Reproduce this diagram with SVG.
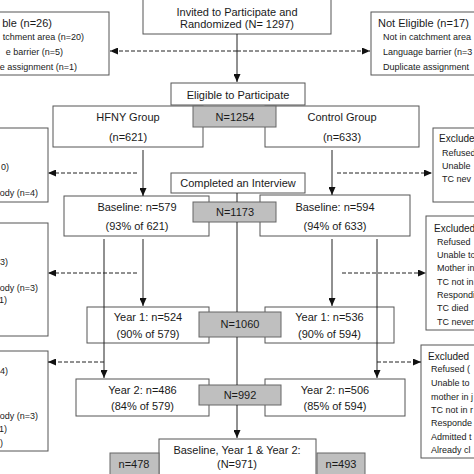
<svg xmlns="http://www.w3.org/2000/svg" width="474" height="474" viewBox="0 0 474 474">
<style>
.box{fill:#fff;stroke:#555;stroke-width:1}
.grey{fill:#bfbfbf;stroke:#666;stroke-width:1}
text{font-family:"Liberation Sans",Arial,sans-serif;fill:#1a1a1a}
.m{font-size:11px;text-anchor:middle}
.h{font-size:11px}
.he{font-size:10px}
.s{font-size:9px}
.se{font-size:9px;text-anchor:end}
.he-end{font-size:11px;text-anchor:end}
.ln{fill:none;stroke:#222;stroke-width:1}
.dl{fill:none;stroke:#222;stroke-width:1;stroke-dasharray:4 2}
</style>
<defs>
<marker id="ah" markerUnits="userSpaceOnUse" viewBox="0 0 8 7" refX="8" refY="3.5" markerWidth="8" markerHeight="7" orient="auto">
<path d="M0,0 L8,3.5 L0,7 z" fill="#111"/>
</marker>
</defs>
<rect width="474" height="474" fill="#fff"/>

<g id="invited"><rect class="box" x="143" y="-5" width="188" height="39"/>
<text class="m" x="237" y="16">Invited to Participate and</text>
<text class="m" x="237" y="28">Randomized (N= 1297)</text></g>

<g id="notelig-left"><rect class="box" x="-60" y="12" width="169" height="63"/>
<text class="he-end" x="52" y="27">ble (n=26)</text>
<text class="se" x="84" y="40">tchment area (n=20)</text>
<text class="se" x="63" y="55">e barrier (n=5)</text>
<text class="se" x="77" y="70">e assignment (n=1)</text></g>

<g id="notelig-right"><rect class="box" x="371" y="12" width="120" height="63"/>
<text class="h" x="378" y="27">Not Eligible (n=17)</text>
<text class="s" x="383" y="40">Not in catchment area</text>
<text class="s" x="383" y="55">Language barrier (n=3</text>
<text class="s" x="383" y="70">Duplicate assignment</text></g>

<g id="eligible"><rect class="box" x="171" y="83" width="134" height="22"/>
<text class="m" x="238" y="99">Eligible to Participate</text></g>

<g id="hfny"><rect class="box" x="53" y="106" width="150" height="41"/>
<text class="m" x="128" y="121">HFNY Group</text>
<text class="m" x="128" y="141">(n=621)</text></g>

<g id="control"><rect class="box" x="265" y="106" width="154" height="41"/>
<text class="m" x="342" y="121">Control Group</text>
<text class="m" x="342" y="141">(n=633)</text></g>

<g id="n1254"><rect class="grey" x="193" y="106" width="83" height="21"/>
<text class="m" x="235" y="121">N=1254</text></g>

<g id="excl-left-1"><rect class="box" x="-60" y="128" width="108" height="74"/>
<text class="se" x="9" y="170">0)</text>
<text class="se" x="38" y="196">ody (n=4)</text></g>

<g id="excl-right-1"><rect class="box" x="433" y="128" width="60" height="74"/>
<text class="he" x="439" y="142">Exclude</text>
<text class="s" x="442" y="156">Refused</text>
<text class="s" x="442" y="169">Unable</text>
<text class="s" x="442" y="182">TC nev</text></g>

<g id="completed"><rect class="box" x="171" y="173" width="134" height="20"/>
<text class="m" x="238" y="187">Completed an Interview</text></g>

<g id="base-hfny"><rect class="box" x="64" y="196" width="145" height="40"/>
<text class="m" x="137" y="211">Baseline: n=579</text>
<text class="m" x="137" y="230">(93% of 621)</text></g>

<g id="base-control"><rect class="box" x="260" y="195" width="150" height="41"/>
<text class="m" x="335" y="211">Baseline: n=594</text>
<text class="m" x="335" y="230">(94% of 633)</text></g>

<g id="n1173"><rect class="grey" x="193" y="202" width="83" height="20"/>
<text class="m" x="235" y="216">N=1173</text></g>

<g id="excl-left-2"><rect class="box" x="-60" y="223" width="108" height="113"/>
<text class="se" x="8" y="265">3)</text>
<text class="se" x="38" y="291">ody (n=3)</text>
<text class="se" x="7" y="303">1)</text></g>

<g id="excl-right-2"><rect class="box" x="426" y="216" width="70" height="114"/>
<text class="he" x="434" y="232">Excluded</text>
<text class="s" x="437" y="245">Refused</text>
<text class="s" x="437" y="258">Unable to</text>
<text class="s" x="437" y="271">Mother in</text>
<text class="s" x="437" y="285">TC not in</text>
<text class="s" x="437" y="298">Respondi</text>
<text class="s" x="437" y="311">TC died</text>
<text class="s" x="437" y="325">TC never</text></g>

<g id="y1-hfny"><rect class="box" x="87" y="307" width="122" height="36"/>
<text class="m" x="148" y="321">Year 1: n=524</text>
<text class="m" x="148" y="338">(90% of 579)</text></g>

<g id="y1-control"><rect class="box" x="265" y="307" width="129" height="36"/>
<text class="m" x="329.5" y="321">Year 1: n=536</text>
<text class="m" x="329.5" y="338">(90% of 594)</text></g>

<g id="n1060"><rect class="grey" x="199" y="312" width="82" height="25"/>
<text class="m" x="240" y="328">N=1060</text></g>

<g id="excl-left-3"><rect class="box" x="-60" y="351" width="108" height="100"/>
<text class="se" x="8" y="374">4)</text>
<text class="se" x="38" y="419">ody (n=3)</text>
<text class="se" x="7" y="432">1)</text>
<text class="se" x="3" y="446">)</text></g>

<g id="excl-right-3"><rect class="box" x="421" y="345" width="70" height="113"/>
<text class="he" x="428" y="360">Excluded</text>
<text class="s" x="431" y="372">Refused (</text>
<text class="s" x="431" y="386">Unable to</text>
<text class="s" x="431" y="400">mother in j</text>
<text class="s" x="431" y="413">TC not in r</text>
<text class="s" x="431" y="426">Responde</text>
<text class="s" x="431" y="440">Admitted t</text>
<text class="s" x="431" y="453">Already cl</text></g>

<g id="y2-hfny"><rect class="box" x="76" y="379" width="133" height="37"/>
<text class="m" x="142.5" y="394">Year 2: n=486</text>
<text class="m" x="142.5" y="410">(84% of 579)</text></g>

<g id="y2-control"><rect class="box" x="265" y="379" width="140" height="37"/>
<text class="m" x="335" y="394">Year 2: n=506</text>
<text class="m" x="335" y="410">(85% of 594)</text></g>

<g id="n992"><rect class="grey" x="199" y="385" width="82" height="20"/>
<text class="m" x="240" y="399">N=992</text></g>

<g id="all-waves"><rect class="box" x="159" y="439" width="157" height="50"/>
<text class="m" x="237" y="454">Baseline, Year 1 &amp; Year 2:</text>
<text class="m" x="237" y="468">(N=971)</text></g>

<g id="n478"><rect class="grey" x="110" y="453" width="49" height="30" stroke="none"/>
<text class="m" x="134" y="468">n=478</text></g>

<g id="n493"><rect class="grey" x="317" y="453" width="48" height="30" stroke="none"/>
<text class="m" x="341" y="468">n=493</text></g>

<g id="connectors">
<path class="ln" d="M237,34 V82" marker-end="url(#ah)"/>
<path class="dl" d="M237,51 H110" marker-end="url(#ah)"/>
<path class="dl" d="M237,51 H370" marker-end="url(#ah)"/>
<path class="ln" d="M143,150 V196" marker-end="url(#ah)"/>
<path class="dl" d="M137,173 H48" marker-end="url(#ah)"/>
<path class="ln" d="M332,150 V195" marker-end="url(#ah)"/>
<path class="dl" d="M337,173 H432" marker-end="url(#ah)"/>
<path class="ln" d="M237,193 V202"/>
<path class="ln" d="M143,239 V306" marker-end="url(#ah)"/>
<path class="dl" d="M137,273 H48" marker-end="url(#ah)"/>
<path class="ln" d="M332,239 V306" marker-end="url(#ah)"/>
<path class="dl" d="M342,273 H426" marker-end="url(#ah)"/>
<path class="ln" d="M104,239 V378" marker-end="url(#ah)"/>
<path class="dl" d="M104,362 H48" marker-end="url(#ah)"/>
<path class="ln" d="M377,239 V378" marker-end="url(#ah)"/>
<path class="dl" d="M377,362 H421" marker-end="url(#ah)"/>
<path class="ln" d="M237,222 V312"/>
<path class="ln" d="M237,337 V385"/>
<path class="ln" d="M237,405 V438" marker-end="url(#ah)"/>
</g>
</svg>
